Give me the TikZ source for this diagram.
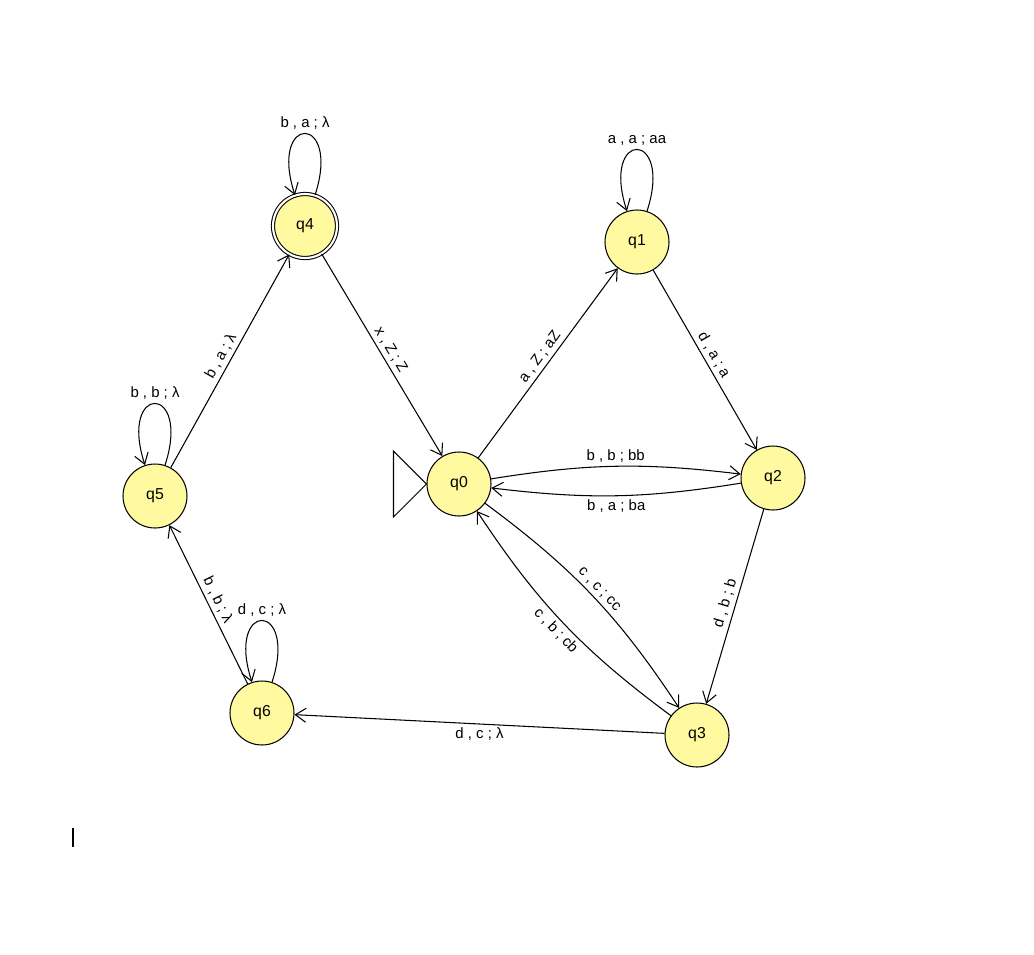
\documentclass[tikz,border=0pt]{standalone}
\usepackage{fontspec}
\setmainfont{Liberation Sans}
\usetikzlibrary{arrows.meta}
\definecolor{stfill}{RGB}{255,250,160}
\begin{document}
\begin{tikzpicture}[x=0.02cm,y=-0.02cm,line width=0.6pt,
  state/.style={circle,draw,fill=stfill,minimum size=1.28cm,inner sep=0pt,font=\fontsize{9}{10}\selectfont},
  accept/.style={state,double,double distance=1.2pt},
  edge/.style={-{Straight Barb[length=6pt,width=8pt]}},
  lab/.style={font=\fontsize{8.5}{10}\selectfont,inner sep=2pt},
  selfloop/.style={edge,out=72,in=108,looseness=11}]
\useasboundingbox (0,0) rectangle (1034,954);
\node[state] (q0) at (459,484) {q0};
\node[state] (q1) at (637,242) {q1};
\node[state] (q2) at (773,478) {q2};
\node[state] (q3) at (697,735) {q3};
\node[accept] (q4) at (305,226) {q4};
\node[state] (q5) at (155,496) {q5};
\node[state] (q6) at (262,713) {q6};
% initial marker
\coordinate (iw) at (q0.west);
\draw (iw) -- ++(-33,-33) -- ++(0,66) -- cycle;
% edges
\draw[edge] (q4) -- node[lab,sloped,above]{x , Z ; Z} (q0);
\draw[edge] (q0) -- node[lab,sloped,above]{a , Z ; aZ} (q1);
\draw[edge] (q1) -- node[lab,sloped,above]{d , a ; a} (q2);
\draw[edge] (q2) -- node[lab,sloped,above]{d , b ; b} (q3);
\draw[edge] (q0) to[bend left=8] node[lab,above]{b , b ; bb} (q2);
\draw[edge] (q2) to[bend left=8] node[lab,below]{b , a ; ba} (q0);
\draw[edge] (q0) to[bend left=10] node[lab,sloped,above]{c , c ; cc} (q3);
\draw[edge] (q3) to[bend left=10] node[lab,sloped,below]{c , b ; cb} (q0);
\draw[edge] (q3) -- node[lab,below]{d , c ; λ} (q6);
\draw[edge] (q6) -- node[lab,sloped,above]{b , b ; λ} (q5);
\draw[edge] (q5) -- node[lab,sloped,above]{b , a ; λ} (q4);
% loops
\draw[selfloop] (q4) to node[lab,above]{b , a ; λ} (q4);
\draw[selfloop] (q1) to node[lab,above]{a , a ; aa} (q1);
\draw[selfloop] (q5) to node[lab,above]{b , b ; λ} (q5);
\draw[selfloop] (q6) to node[lab,above]{d , c ; λ} (q6);
% cursor mark
\draw (73,828) -- (73,847);
\end{tikzpicture}
\end{document}
